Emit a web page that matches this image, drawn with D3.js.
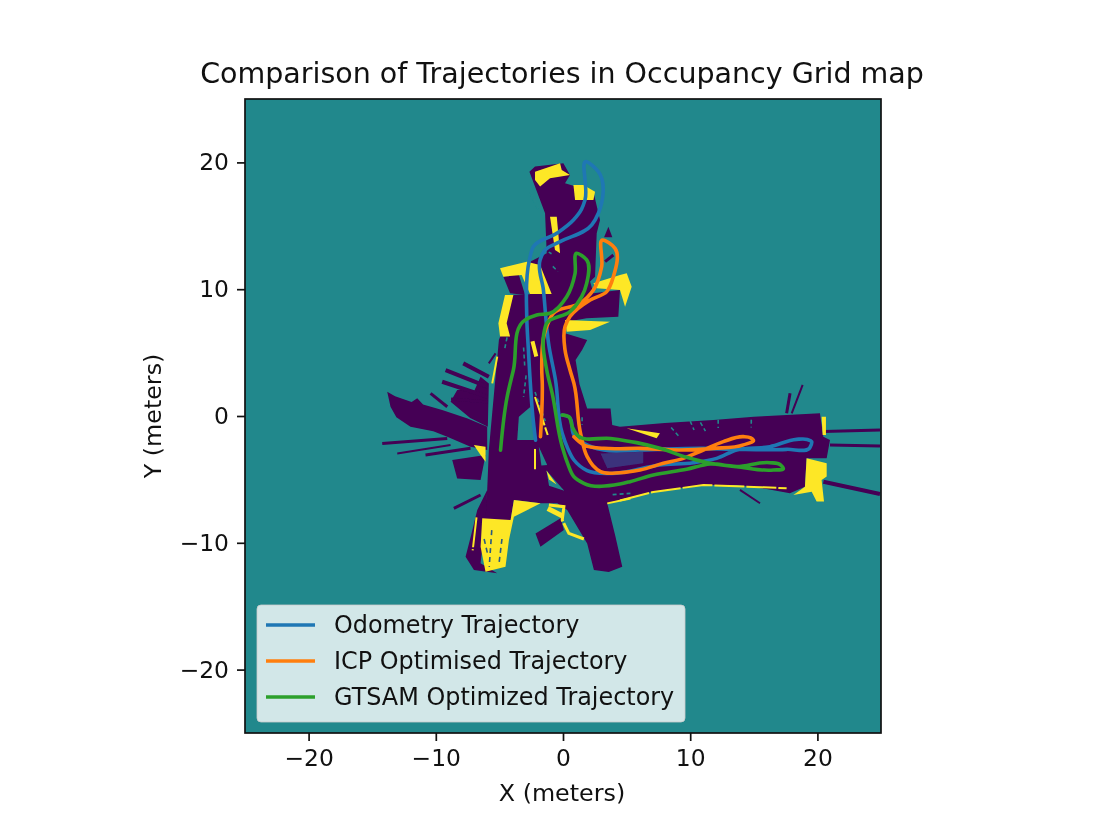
<!DOCTYPE html>
<html><head><meta charset="utf-8">
<script src="https://cdnjs.cloudflare.com/ajax/libs/d3/7.8.5/d3.min.js"></script>
<style>html,body{margin:0;background:#fff}svg{display:block;filter:blur(.45px)}text{font-family:"DejaVu Sans";fill:#111}</style>
</head><body><div id="c"></div>
<script>
const titleText="Comparison of Trajectories in Occupancy Grid map";
const xLabel="X (meters)", yLabel="Y (meters)";
const tickValues=[-20,-10,0,10,20];
const seriesNames=["Odometry Trajectory","ICP Optimised Trajectory","GTSAM Optimized Trajectory"];
const seriesColors=["#1f77b4","#ff7f0e","#2ca02c"];
const odometry=[[-2.16,-1.9],[-2.37,-.06],[-2.6,3.1],[-2.72,5.21],[-2.85,7.84],[-2.64,12.31],[-2.33,13.36],[-.49,14.41],[.82,15.46],[1.45,16.3],[1.73,17.04],[1.86,20.06],[2.78,19.27],[2.78,15.99],[2.26,15.07],[-.23,13.75],[-1.41,13.09],[-1.8,12.31],[-1.54,9.94],[-1.1,5.5],[-.59,2.84],[-.06,-1.37],[.35,-2.5],[.86,-3.47],[1.9,-4.31],[3.74,-4.53],[7.62,-3.86],[10.25,-3.68],[12.08,-3.34],[13.65,-2.68],[16.27,-2.42],[18.37,-1.84],[19.2,-1.85],[19.55,-2.02],[19.42,-2.47],[17.58,-2.63],[13.65,-2.63],[11.03,-2.55],[6.05,-2.68],[3.21,-2.69],[1.64,-2.16],[.86,-1.5],[.46,-.06],[-.06,.08]];
const icp=[[-1.77,-1.63],[-1.63,2.57],[-1.67,3.63],[-1.28,7.05],[-.76,8.1],[1.34,8.89],[2.39,9.94],[3.04,11.78],[3.12,13.88],[4.09,13.22],[3.96,10.99],[3.44,9.81],[2.13,9.15],[.55,7.84],[.16,7.05],[.16,5.21],[.55,3.63],[.86,2.57],[1.38,-1.37],[1.9,-3.21],[2.35,-3.9],[2.95,-4.39],[4.48,-4.47],[6.05,-4.26],[7.89,-3.73],[9.46,-3.34],[11.03,-2.68],[12.6,-2.02],[14.18,-1.63],[14.75,-1.72],[14.96,-1.89],[14.18,-2.28],[11.82,-2.55],[9.2,-2.68],[6.05,-2.55],[3.21,-2.55],[1.64,-2.29],[.86,-1.63]];
const gtsam=[[-4.91,-2.69],[-4.39,1.52],[-3.9,3.63],[-2.98,7.57],[-2.07,7.97],[-1.02,8.1],[.29,9.41],[.95,11.25],[1.08,12.83],[1.86,12.31],[1.86,10.46],[1.47,9.41],[.55,8.23],[-1.28,7.31],[-1.54,6.26],[-1.28,3.63],[-.85,1.78],[-.06,-2.42],[.35,-3.7],[.86,-4.79],[1.64,-5.31],[4.48,-5.36],[5.27,-5.18],[7.1,-4.65],[9.72,-4.2],[11.56,-3.78],[13.65,-3.99],[16.27,-3.68],[17.1,-3.85],[17.32,-4.13],[16.53,-4.26],[13.65,-3.99],[11.56,-3.73],[9.72,-3.26],[7.62,-2.55],[5.79,-2.1],[3.74,-1.77],[1.12,-1.5],[.73,-.84],[.46,-.06],[-.06,.08]];
const occupiedAreas=[
[[-2.64,19.27],[-2.2,19.67],[.03,19.93],[.55,19.01],[.16,18.35],[2.39,17.69],[2.91,15.46],[2.65,14.41],[2.52,10.99],[2.13,10.6],[2.39,9.68],[4.48,9.94],[4.35,7.83],[1.86,7.7],[.29,7.44],[.16,6.52],[1.9,5.99],[1.5,5.2],[.99,4.41],[1.3,2.5],[1.9,.6],[3.74,.6],[3.87,-.71],[4.48,-.84],[8,-.55],[11.82,-.31],[15,-.05],[20.2,.21],[20.47,-1.63],[20.99,-1.89],[20.73,-3.34],[19.15,-3.34],[19.02,-5.57],[17.84,-6.1],[16,-5.75],[13.65,-5.44],[11.03,-5.44],[7.1,-5.96],[4.48,-6.62],[3.48,-6.89],[4.1,-9.4],[4.66,-11.88],[3.6,-12.3],[2.43,-12.15],[1.9,-10.05],[.33,-7.42],[-.45,-6.89],[-1.76,-6.89],[-3.86,-6.63],[-4.12,-8.21],[-5.17,-8.47],[-6.22,-8.21],[-5.96,-5.84],[-5.83,-2.69],[-5.04,5.99],[-4.56,7.31],[-4.16,9.55],[-2.59,9.6],[-2.59,12.17],[-1.28,12.83],[-1.41,15.99]],
[[-13.82,1.92],[-13.2,1.55],[-11.9,1.1],[-11.46,1.4],[-11,.9],[-9.5,.47],[-7.5,-.2],[-5.96,-.84],[-5.96,-2.69],[-7.27,-2.42],[-9.1,-1.63],[-10.2,-1.2],[-11.99,-.84],[-13.1,-.1],[-13.56,.73]],
[[-8.84,1.13],[-8.32,2.05],[-7.6,2.1],[-7.01,1.92],[-6.48,3.1],[-5.83,2.57],[-5.91,-.84],[-7.3,-.15]],
[[-8.71,-3.47],[-6.09,-3.08],[-6.48,-5.05],[-8.32,-4.92]],
[[-7.66,-11.1],[-7.2,-9.3],[-6.74,-7.42],[-5.96,-5.84],[-6.09,-8.21],[-6.48,-11.62],[-5.17,-12.41],[-7,-12.15]],
[[-2.16,-9.26],[-.19,-8.07],[.07,-8.99],[-1.77,-10.31]],
[[-4.69,10.99],[-3.51,11.25],[-2.98,9.55],[-4.16,9.68]],
[[3.23,14.09],[3.57,14.93],[3.88,14.09]]
];
const occupiedRays=[
[[-9.23,3.62],[-5.96,2.31],4],[[-7.84,4.15],[-5.83,3.1],4],[[-9.5,2.7],[-5.96,1.52],4],[[-10.41,1.78],[-9.1,.73],3],[[-8.8,1.35],[-5.9,1.1],3],
[[-14.21,-2.16],[-9.1,-1.77],3],[[-13.03,-2.95],[-8.84,-2.29],2],[[-10.81,-3.08],[-7.27,-2.55],3],[[-8.58,-7.29],[-6.48,-6.23],3],[[-5.3,4.94],[-5.83,4.15],2],
[[20.47,-1.23],[24.92,-1.1],3],[[20.99,-2.28],[24.92,-2.36],3],[[20.47,-5.18],[24.92,-6.15],4],[[17.58,.21],[17.85,1.79],3],[[17.98,.21],[18.84,2.45],2],[[13.91,-5.83],[15.49,-6.88],2],[[3.31,12.17],[3.96,12.7],3]
];
const freeAreas=[
[[-3.47,-.06],[-2.55,.73],[-2.16,-1.37],[-2.29,-1.9],[-3.6,-1.9]],
[[-1.9,-2.42],[-1.24,-3.87],[-1.7,-3.9]],
[[-1.3,-4.3],[.1,-5.9],[-1.1,-5.5]]
];
const freeSpecks=[
[[-3.1,5.4],[-3,3.8]],[[-2.9,3.2],[-3.1,1.5]],[[-2.2,1.9],[-1.4,-.4]],[[-4.4,6.2],[-4.6,5.2]],
[[10,-.4],[10.3,-1.1]],[[10.8,-.5],[11.2,-1.2]],[[12.2,-.3],[12.2,-.95]],[[8.5,-.9],[9.2,-1.7]],[[14.8,-.3],[14.8,-.9]],
[[-2.6,17.6],[-1.9,16.2]],[[-1.6,13.2],[-.9,12.8]],[[-.8,11.8],[-.4,11.4]],[[3.9,-6.2],[5.3,-6.1]],[[1.5,-.1],[1.5,-.7]]
];
const unknownAreas=[
[[-2.2,19.27],[-.23,19.93],[-.1,19.4],[.55,19.01],[-1.02,18.75],[-1.8,18.09],[-2.2,18.61]],
[[.82,18.22],[1.6,18.22],[2.52,17.69],[2.39,17.04],[.95,17.04]],
[[-1.02,15.72],[-.49,15.72],[-.23,12.83],[-.63,13.09]],
[[-4.95,11.65],[-2.85,12.17],[-1.8,11.91],[-.89,9.62],[-2.59,9.62],[-3.25,11.12],[-4.69,10.99]],
[[-4.56,9.55],[-3.9,9.55],[-4.43,7.31],[-4.16,6.26],[-4.95,6.26],[-5.08,7.31]],
[[2.39,10.46],[4.48,11.12],[5.01,11.25],[5.4,10.2],[4.88,8.62],[4.48,9.94],[2.65,10.07]],
[[.16,7.57],[3.7,7.44],[2.13,6.78],[.29,6.65]],
[[-6.35,-8.07],[-4.12,-8.21],[-3.86,-6.63],[-1.76,-6.89],[-3.86,-7.94],[-4.25,-9.78],[-4.52,-11.89],[-6.09,-12.28],[-6.48,-10.31]],
[[19.15,-3.34],[20.73,-3.73],[20.73,-4.78],[20.33,-5.05],[20.52,-6.75],[19.94,-6.75],[19.55,-5.97],[18.11,-6.23],[19.02,-5.57]],
[[20.33,-.05],[20.67,-.05],[20.67,-1.5],[20.41,-1.5]],
[[5,-.97],[7.62,-1.36],[7.36,-1.76]],
[[-7.01,-2.29],[-6.09,-2.42],[-6.09,-3.6],[-6.48,-3.08]],
[[-1.3,-4.3],[-.5,-5.4],[-1.1,-5.0]]
];
const unknownEdges=[
[[4.48,-6.67],[7.1,-5.99],[11.03,-5.44],[14.44,-5.57],[17.58,-5.7],[2]],
[[-1.11,-7.02],[.07,-7.15],[-.06,-8.21],[.46,-9.26],[1.64,-9.7],[3]],
[[3.48,-6.89],[5.3,-6.5],[2]],
[[-5.17,4.68],[-5.56,2.57],[2]],
[[-2.4,5.9],[-2.1,4.7],[4]],
[[-2.2,-2.6],[-2.2,-4.2],[2]],
[[-2.2,1.5],[-1.2,-1.5],[2]],
[[-6.8,-8],[-7.1,-10.6],[2]],
[[-1.2,-7.3],[0,-7.9],[5]]
];
const yellowHoles=[
[[-5.6,-9],[-5.8,-11.9]],[[-4.8,-9.7],[-5.05,-11.8]],[[-6.2,-9.7],[-5.9,-11]]
];
const speckleArea=[[2.95,-2.95],[6.31,-2.81],[6.31,-3.73],[3.48,-4.13]];
const W=1099,H=823,L=245,R=881,T=99,B=733;
const svg=d3.select("#c").append("svg").attr("width",W).attr("height",H);
const x=d3.scaleLinear().domain([-25,25]).range([L,R]);
const y=d3.scaleLinear().domain([-25,25]).range([B,T]);
const defs=svg.append("defs");
defs.append("clipPath").attr("id","ax").append("rect").attr("x",L).attr("y",T).attr("width",R-L).attr("height",B-T);
defs.append("filter").attr("id","soft").append("feGaussianBlur").attr("stdDeviation",0.5);
const poly=d3.line().x(d=>x(d[0])).y(d=>y(d[1]));
const purple="#440154",teal="#21888c",yellow="#fde725";
const plot=svg.append("g").attr("clip-path","url(#ax)");
plot.append("rect").attr("x",x(-25)).attr("y",y(25)).attr("width",x(25)-x(-25)).attr("height",y(-25)-y(25)).attr("fill",teal);
const map=plot.append("g").attr("filter","url(#soft)");
map.selectAll(".o").data(occupiedAreas).join("path").attr("d",d=>poly(d)+"Z").attr("fill",purple);
map.selectAll(".r").data(occupiedRays).join("line").attr("x1",d=>x(d[0][0])).attr("y1",d=>y(d[0][1])).attr("x2",d=>x(d[1][0])).attr("y2",d=>y(d[1][1])).attr("stroke",purple).attr("stroke-width",d=>d[2]);
map.selectAll(".f").data(freeAreas).join("path").attr("d",d=>poly(d)+"Z").attr("fill",teal);
map.selectAll(".s").data(freeSpecks).join("path").attr("d",d=>poly(d)).attr("stroke",teal).attr("stroke-width",1.6).attr("stroke-dasharray","4 3").attr("fill","none");
map.selectAll(".u").data(unknownAreas).join("path").attr("d",d=>poly(d)+"Z").attr("fill",yellow);
map.selectAll(".e").data(unknownEdges).join("path").attr("d",d=>poly(d.slice(0,-1))).attr("fill","none").attr("stroke",yellow).attr("stroke-width",d=>d[d.length-1][0]).attr("stroke-dasharray","30 2");
map.selectAll(".h").data(yellowHoles).join("path").attr("d",d=>poly(d)).attr("stroke","#2a5a80").attr("stroke-width",1.6).attr("stroke-dasharray","5 4").attr("fill","none");
map.append("path").attr("d",poly(speckleArea)+"Z").attr("fill","#3a3f85").attr("opacity",.8);
const traj=d3.line().x(d=>x(d[0])).y(d=>y(d[1])).curve(d3.curveCatmullRom.alpha(1));
[odometry,icp,gtsam].forEach((s,i)=>plot.append("path").attr("d",traj(s)).attr("fill","none").attr("stroke",seriesColors[i]).attr("stroke-width",3.6).attr("stroke-linejoin","round").attr("stroke-linecap","round"));
const ax=svg.append("g");
const bx=ax.append("g").attr("transform",`translate(0,${B})`).call(d3.axisBottom(x).tickValues(tickValues).tickSize(8).tickPadding(8).tickFormat(d3.format("d")));
const ly=ax.append("g").attr("transform",`translate(${L},0)`).call(d3.axisLeft(y).tickValues(tickValues).tickSize(8).tickPadding(8).tickFormat(d3.format("d")));
[bx,ly].forEach(g=>{g.selectAll("path").remove();g.attr("font-family","DejaVu Sans").attr("font-size",23.4);g.selectAll("line").attr("stroke","#111").attr("stroke-width",1.7)});
svg.append("rect").attr("x",L).attr("y",T).attr("width",R-L).attr("height",B-T).attr("fill","none").attr("stroke","#111").attr("stroke-width",1.7);
const leg=svg.append("g");
leg.append("rect").attr("x",257).attr("y",605).attr("width",428).attr("height",117).attr("rx",4).attr("fill","#fff").attr("fill-opacity",.8).attr("stroke","#ccc").attr("stroke-opacity",.8);
seriesNames.forEach((n,i)=>{const yy=625+36*i;
 leg.append("line").attr("x1",266).attr("x2",315).attr("y1",yy).attr("y2",yy).attr("stroke",seriesColors[i]).attr("stroke-width",3.6);
 leg.append("text").attr("x",334).attr("y",yy+8).attr("font-size",23.9).text(n);});
svg.append("text").attr("x",562).attr("y",83).attr("text-anchor","middle").attr("font-size",28.5).text(titleText);
svg.append("text").attr("x",562).attr("y",801).attr("text-anchor","middle").attr("font-size",23.8).text(xLabel);
svg.append("text").attr("transform",`translate(161,416) rotate(-90)`).attr("text-anchor","middle").attr("font-size",23.8).text(yLabel);
</script></body></html>
